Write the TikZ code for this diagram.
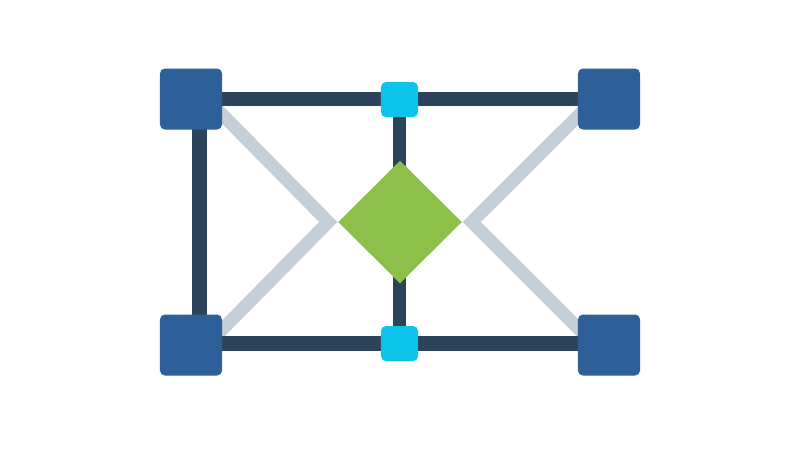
\documentclass[tikz,border=0pt]{standalone}
\usetikzlibrary{shapes.geometric,backgrounds,calc}
\definecolor{sqblue}{HTML}{2D5F98}
\definecolor{barcol}{HTML}{2C435B}
\definecolor{cyanbox}{HTML}{0CC3E9}
\definecolor{leaf}{HTML}{8CC04B}
\definecolor{linkcol}{HTML}{C6CFD7}
\begin{document}
\begin{tikzpicture}[x=0.01cm,y=-0.01cm,
  bigbox/.style={fill=sqblue, rounded corners=0.05cm, minimum width=0.62cm, minimum height=0.61cm, inner sep=0pt},
  smallbox/.style={fill=cyanbox, rounded corners=0.05cm, minimum width=0.37cm, minimum height=0.35cm, inner sep=0pt},
  hub/.style={diamond, fill=leaf, minimum width=1.24cm, minimum height=1.23cm, inner sep=0pt},
  barline/.style={draw=barcol, line width=4.1pt},
  linkline/.style={draw=linkcol, line width=3.7pt, line join=miter}]
\useasboundingbox (0,0) rectangle (800,450);
% nodes
\node[bigbox] (tl) at (191,99) {};
\node[bigbox] (tr) at (609,99) {};
\node[bigbox] (bl) at (191,345) {};
\node[bigbox] (br) at (609,345) {};
\node[smallbox] (ct) at (399.5,99.5) {};
\node[smallbox] (cb) at (399.5,343.5) {};
\node[hub] (hub) at (400,222) {};
\coordinate (lx) at ($(hub.west)+(-9,0)$);
\coordinate (rx) at ($(hub.east)+(9,0)$);
\begin{scope}[on background layer]
  \fill[white] (0,0) rectangle (800,450);
  % light links
  \draw[linkline] ($(tl.center)+(9,-7)$) -- (lx) -- ($(bl.center)+(9,7)$);
  \draw[linkline] ($(tr.center)+(-9,-5)$) -- (rx) -- ($(br.center)+(-9,5)$);
  % dark bars
  \draw[barline] (tl.center) -- (tr.center);
  \draw[barline] ($(bl.center)+(0,-1.5)$) -- ($(br.center)+(0,-1.5)$);
  \draw[barline] ($(tl.center)+(8.5,0)$) -- ($(bl.center)+(8.5,0)$);
  \draw[barline, line width=3.8pt] (ct.center) -- (cb.center);
\end{scope}
\end{tikzpicture}
\end{document}
